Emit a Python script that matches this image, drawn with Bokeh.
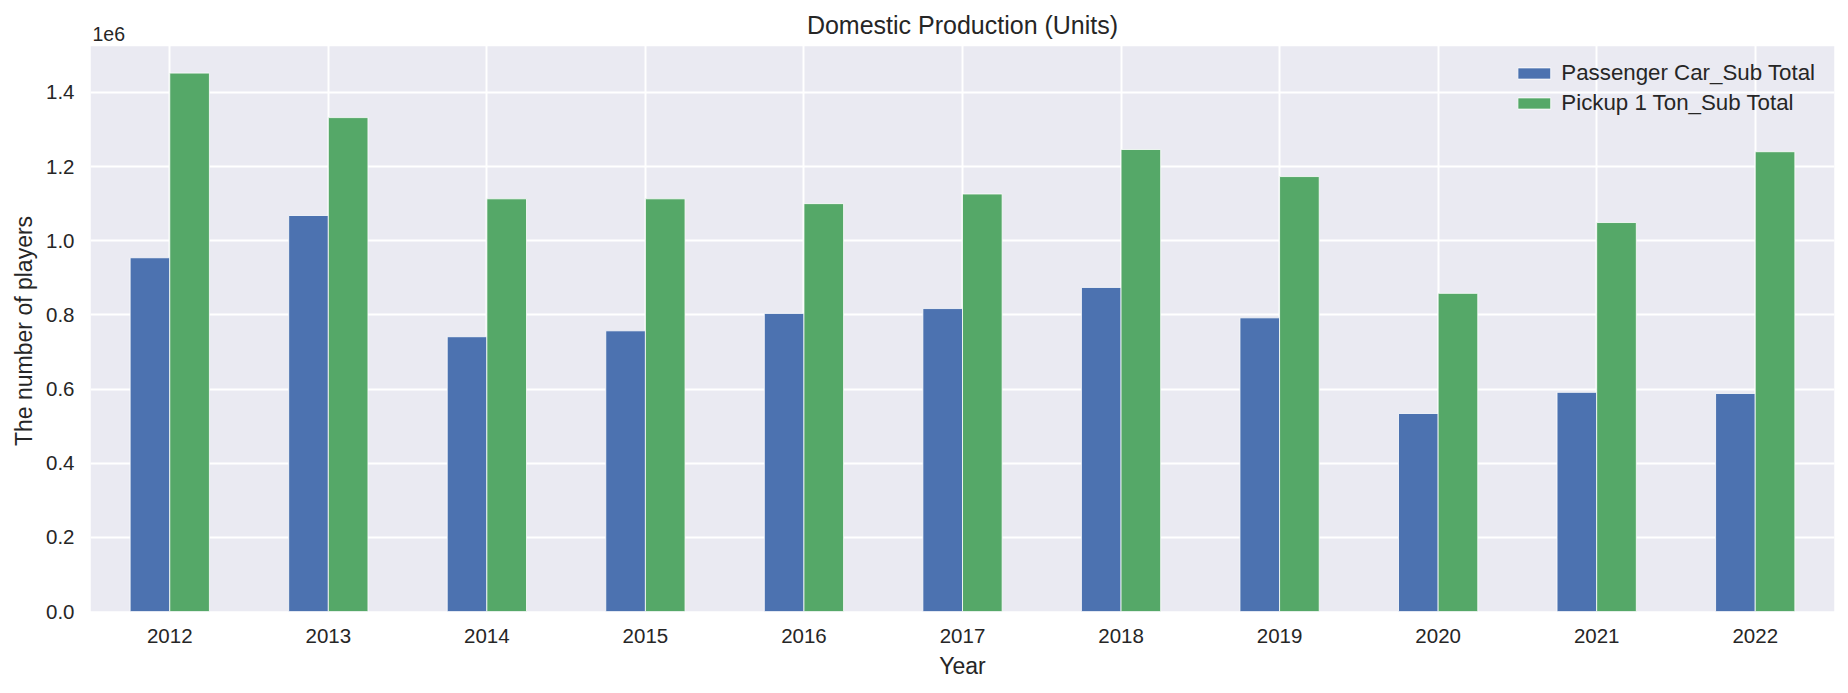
from bokeh.plotting import figure
from bokeh.models import (ColumnDataSource, Range1d, FixedTicker, CustomJSTickFormatter,
                          Legend, LegendItem, BoxAnnotation, Title)
from bokeh.core.properties import value
from bokeh.embed import file_html
from bokeh.resources import INLINE

years = ["2012", "2013", "2014", "2015", "2016", "2017", "2018", "2019", "2020", "2021", "2022"]
passenger_car = [954000, 1068000, 741000, 757000, 804000, 817000, 874000, 792000, 534000, 591000, 588000]
pickup_1ton = [1452000, 1332000, 1113000, 1113000, 1100000, 1126000, 1246000, 1173000, 858000, 1049000, 1240000]
y_ticks = [0, 200000, 400000, 600000, 800000, 1000000, 1200000, 1400000]
title_text = "Domestic Production (Units)"
offset_text = "1e6"

FONT = "Liberation Sans"
TXT = "#262626"
BLUE = "#4C72B0"
GREEN = "#55A868"
BG = "#EAEAF2"

W, H = 1840, 685
B_LEFT, B_RIGHT, B_BOTTOM = 90, 6, 74
FRAME_W = W - B_LEFT - B_RIGHT
FRAME_H = H - B_BOTTOM          # frame spans to the top; the data area starts lower
DATA_TOP_PX = 45.7              # px from figure top to the top of the data area

idx = list(range(len(years)))
bw = 0.25
x0, x1 = -0.5, len(years) - 0.5
ymax = max(pickup_1ton) * 1.05
s = ymax / (FRAME_H - DATA_TOP_PX)          # data units per px
y_top = s * FRAME_H
sx = (x1 - x0) / FRAME_W

src = ColumnDataSource(dict(
    xa=[i - bw / 2 for i in idx],
    xb=[i + bw / 2 for i in idx],
    pc=passenger_car,
    pu=pickup_1ton,
))

p = figure(width=W, height=H, output_backend="svg", toolbar_location=None,
           x_range=Range1d(x0, x1), y_range=Range1d(0, y_top),
           min_border_left=B_LEFT, min_border_right=B_RIGHT, min_border_top=0,
           min_border_bottom=B_BOTTOM)
p.title.visible = False
p.background_fill_color = "white"
p.border_fill_color = "white"
p.outline_line_color = None

p.add_layout(BoxAnnotation(left=x0, right=x1, bottom=0, top=ymax, fill_color=BG,
                           fill_alpha=1.0, line_color=None, level="image"))

r1 = p.vbar(x="xa", top="pc", width=bw, source=src, fill_color=BLUE, line_color="white", line_width=0.8)
r2 = p.vbar(x="xb", top="pu", width=bw, source=src, fill_color=GREEN, line_color="white", line_width=0.8)

# title and offset text in the white strip above the data area
p.text(x=[(x0 + x1) / 2], y=[s * (FRAME_H - 24.5)], text=[title_text],
       text_align="center", text_baseline="alphabetic",
       text_font=value(FONT), text_font_size=value("25px"), text_color=TXT)
p.text(x=[x0 + 2 * sx], y=[s * (FRAME_H - 33)], text=[offset_text],
       text_align="left", text_baseline="alphabetic",
       text_font=value(FONT), text_font_size=value("19.5px"), text_color=TXT)

p.xaxis.ticker = FixedTicker(ticks=idx)
p.xaxis.major_label_overrides = {i: y for i, y in zip(idx, years)}
p.yaxis.ticker = FixedTicker(ticks=y_ticks)
p.yaxis.formatter = CustomJSTickFormatter(code="return (tick/1e6).toFixed(1);")

for ax in (p.xaxis[0], p.yaxis[0]):
    ax.axis_line_color = None
    ax.major_tick_line_color = None
    ax.minor_tick_line_color = None
    ax.major_tick_in = 0
    ax.major_tick_out = 0
    ax.major_label_text_font = FONT
    ax.major_label_text_font_size = "20.5px"
    ax.major_label_text_color = TXT
    ax.axis_label_text_font = FONT
    ax.axis_label_text_font_size = "23px"
    ax.axis_label_text_font_style = "normal"
    ax.axis_label_text_color = TXT

p.xaxis.axis_label = "Year"
p.xaxis.major_label_standoff = 17
p.xaxis.axis_label_standoff = 7
p.yaxis.major_label_standoff = 16

ylab = Title(text="The number of players", align="left", offset=165.5, standoff=13,
             text_font=FONT, text_font_size="23px", text_font_style="normal", text_color=TXT)
p.add_layout(ylab, "left")

p.xgrid.grid_line_color = "white"
p.ygrid.grid_line_color = "white"
p.xgrid.grid_line_width = 2
p.ygrid.grid_line_width = 2
p.xgrid.ticker = FixedTicker(ticks=idx)
p.ygrid.ticker = FixedTicker(ticks=y_ticks)

legend = Legend(items=[LegendItem(label="Passenger Car_Sub Total", renderers=[r1]),
                       LegendItem(label="Pickup 1 Ton_Sub Total", renderers=[r2])],
                location="top_right")
legend.title = " "
legend.title_text_font_size = "20px"
legend.title_standoff = 18
legend.background_fill_alpha = 0
legend.border_line_alpha = 0
legend.label_text_font = FONT
legend.label_text_font_size = "22.3px"
legend.label_text_color = TXT
legend.glyph_width = 41
legend.glyph_height = 14
legend.spacing = 4
legend.label_standoff = 7
legend.margin = 19
legend.padding = 0
p.add_layout(legend)

open("out.html", "w").write(file_html(p, INLINE))
